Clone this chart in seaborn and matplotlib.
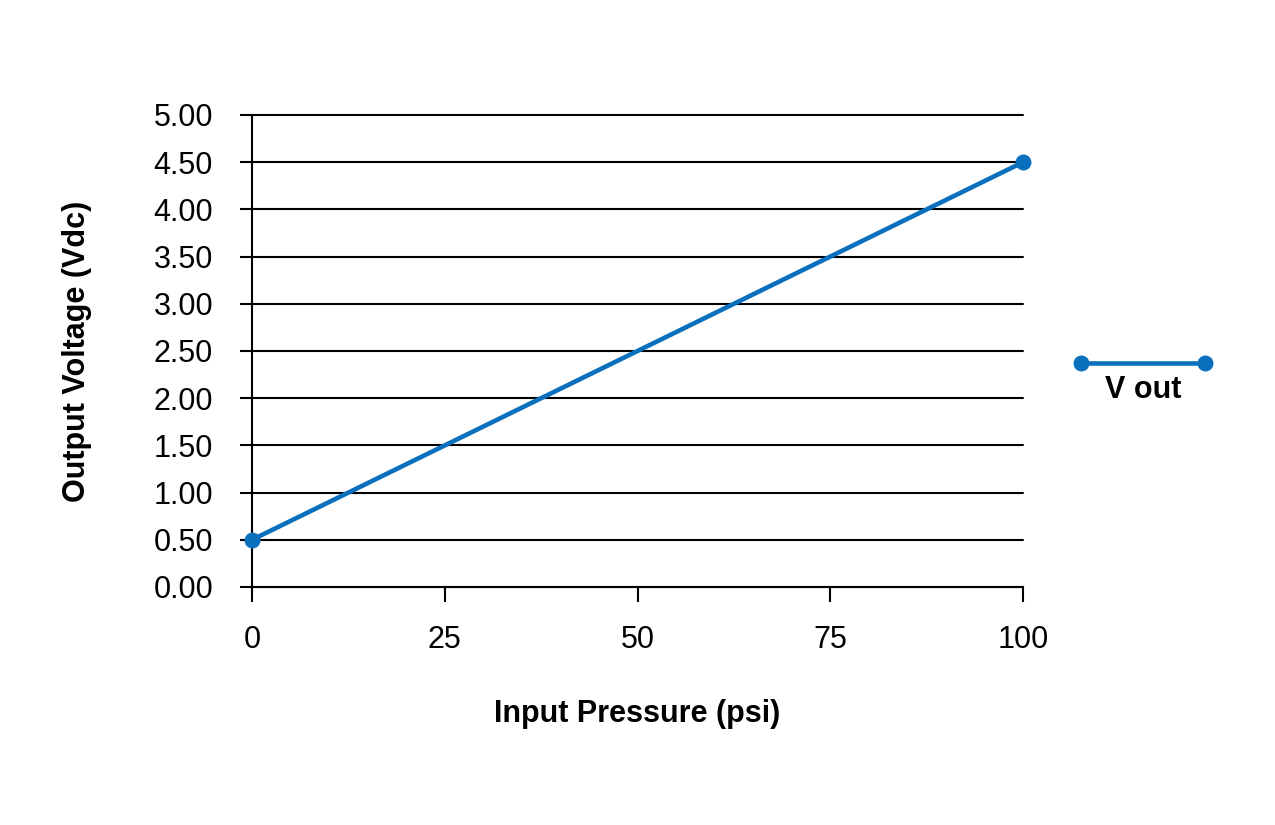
import matplotlib
matplotlib.use("Agg")
import matplotlib.pyplot as plt
import seaborn as sns
import pandas as pd
from matplotlib.lines import Line2D

# Data
pressure_psi = [0, 100]
voltage_vdc = [0.5, 4.5]
series_name = "V out"
x_ticks = [0, 25, 50, 75, 100]
y_ticks = [0.0, 0.5, 1.0, 1.5, 2.0, 2.5, 3.0, 3.5, 4.0, 4.5, 5.0]

df = pd.DataFrame({"Input Pressure (psi)": pressure_psi,
                   "Output Voltage (Vdc)": voltage_vdc})

sns.set_theme(style="white")
plt.rcParams["font.family"] = ["Liberation Sans", "DejaVu Sans"]

COLOR = "#0A70BE"
FS = 22

fig = plt.figure(figsize=(12.75, 8.25), dpi=100)
ax = fig.add_axes([252/1275, 1-587/825, (1023-252)/1275, (587-115)/825])

sns.lineplot(data=df, x="Input Pressure (psi)", y="Output Voltage (Vdc)", ax=ax,
             color=COLOR, linewidth=3.3, marker="o", markersize=11.5,
             markeredgewidth=0, legend=False, zorder=5, clip_on=False)

ax.set_xlim(0, 100)
ax.set_ylim(0, 5)
ax.set_xticks(x_ticks)
ax.set_xticklabels([str(t) for t in x_ticks])
ax.set_yticks(y_ticks)
ax.set_yticklabels([f"{t:.2f}" for t in y_ticks])

ax.grid(axis="y", color="black", linewidth=1.5)
ax.grid(axis="x", visible=False)
ax.set_axisbelow(True)
for gl in ax.get_ygridlines():
    gl.set_clip_on(False)

for s in ["top", "right"]:
    ax.spines[s].set_visible(False)
for s in ["left", "bottom"]:
    ax.spines[s].set_visible(True)
    ax.spines[s].set_color("black")
    ax.spines[s].set_linewidth(1.5)

ax.tick_params(axis="y", which="major", left=True, length=9, width=1.5,
               color="black", pad=19, labelsize=FS, labelcolor="black")
ax.tick_params(axis="x", which="major", bottom=True, length=11, width=1.5,
               color="black", pad=16, labelsize=FS, labelcolor="black")

ax.set_xlabel("Input Pressure (psi)", fontsize=FS, fontweight="bold",
              labelpad=32, color="black")
ax.set_ylabel("Output Voltage (Vdc)", fontsize=FS, fontweight="bold",
              labelpad=44, color="black")

# Legend: handle with marker at both ends, label below
handle = Line2D([0, 1], [0, 0], color=COLOR, linewidth=3.3, marker="o",
                markersize=11.5, markeredgewidth=0)
leg = fig.legend(handles=[handle], labels=[""], loc="center",
                 bbox_to_anchor=(1143/1275, 1-366/825), frameon=False,
                 numpoints=2, handlelength=4.65, handletextpad=0,
                 borderpad=0, fontsize=FS)
fig.text(1143/1275, 1-390/825, series_name, ha="center", va="center",
         fontsize=FS, fontweight="bold", color="black")

fig.savefig("out.png", dpi=100, facecolor="white")
